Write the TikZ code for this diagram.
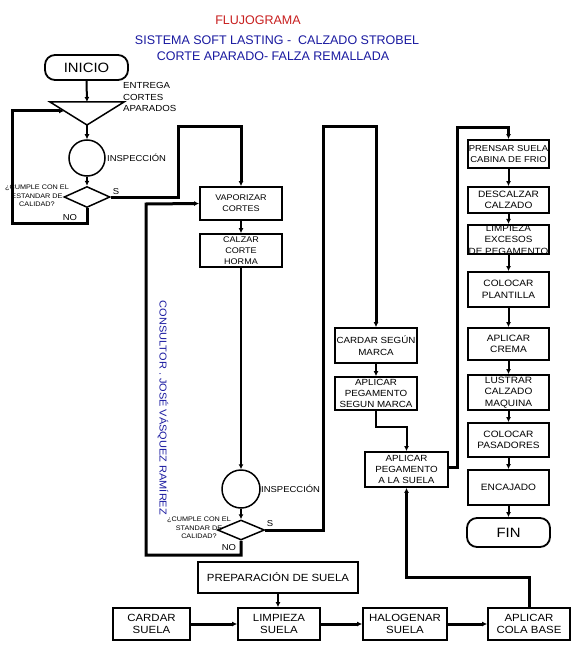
\documentclass[tikz,border=0pt]{standalone}
\usepackage{fontspec}
\setmainfont{Liberation Sans}
\newfontfamily\boxfont[FakeStretch=1.1]{Liberation Sans}
\usetikzlibrary{shapes.geometric,arrows.meta}
\definecolor{tblue}{RGB}{25,25,160}
\definecolor{tred}{RGB}{200,30,30}
\begin{document}
\begin{tikzpicture}[x=1pt,y=-1pt,
  box/.style={draw,line width=1.8pt,inner sep=0pt,align=center,font=\boxfont\fontsize{9.2}{11.5}\selectfont},
  mbox/.style={box,font=\boxfont\fontsize{8.9}{12}\selectfont},
  sbox/.style={box,font=\boxfont\fontsize{8.2}{11}\selectfont},
  bbox/.style={box,font=\boxfont\fontsize{10.4}{12}\selectfont},
  term/.style={draw,line width=1.8pt,rounded corners=10pt,inner sep=0pt,font=\boxfont\fontsize{13.5}{14}\selectfont},
  insp/.style={draw,circle,line width=1.5pt,minimum size=36pt,inner sep=0pt},
  dec/.style={draw,diamond,line width=1.5pt,inner sep=0pt,minimum width=46pt,minimum height=21pt},
  link/.style={line width=2pt},
  loopline/.style={line width=3pt},
  tip/.style={-{Latex[length=5pt,width=5pt]}},
  lbl/.style={inner sep=0pt,font=\boxfont\fontsize{8.6}{9}\selectfont},
  qlbl/.style={inner sep=0pt,align=center,font=\boxfont\fontsize{6.6}{8.3}\selectfont}]
\useasboundingbox (0,0) rectangle (577,671);
\fill[white] (0,0) rectangle (577,671);

% titles
\node[text=tred,font=\fontsize{12.5}{13}\selectfont] (t1) at (258,20) {FLUJOGRAMA};
\node[text=tblue,font=\fontsize{12.5}{13}\selectfont] (t2) at (277,40) {SISTEMA SOFT LASTING -\ \ CALZADO STROBEL};
\node[text=tblue,font=\fontsize{12.5}{13}\selectfont] (t3) at (273,56) {CORTE APARADO- FALZA REMALLADA};

% left column
\node[term,minimum width=83pt,minimum height=25pt] (inicio) at (86.5,67.5) {INICIO};
\coordinate (triTL) at (50,102);
\coordinate (triTR) at (124,102);
\coordinate (triA) at (87,125);
\coordinate (triT) at (87,102);
\coordinate (triL) at (64,111);
\draw[line width=1.5pt,line join=miter] (triTL) -- (triTR) -- (triA) -- cycle;
\node[lbl,anchor=west,align=left,font=\boxfont\fontsize{8.8}{11.5}\selectfont] (entrega) at (123,97) {ENTREGA\\CORTES\\APARADOS};
\node[insp] (c1) at (87,158) {};
\node[lbl,anchor=west] (i1) at (107,158) {INSPECCIÓN};
\node[dec] (d1) at (87,197) {};
\node[qlbl] (q1) at (37,196) {¿CUMPLE CON EL\\ESTANDAR DE\\CALIDAD?};
\node[lbl] (s1) at (116,192) {S};
\node[lbl] (n1) at (70,218) {NO};

\draw[link,tip] (inicio.south) -- (triT);
\draw[link,tip] (triA) -- (c1.north);
\draw[link,tip] (c1.south) -- (d1.north);
\coordinate (no1a) at (87,223);
\coordinate (no1b) at (12,223);
\coordinate (no1c) at (12,111);
\draw[loopline,tip] (d1.south) -- (no1a) -- (no1b) -- (no1c) -- (triL);
\coordinate (s1a) at (178,197);
\coordinate (s1b) at (178,127);
\coordinate (s1c) at (241,127);

% second column
\node[sbox,minimum width=82pt,minimum height=33pt] (vap) at (241,203.5) {VAPORIZAR\\CORTES};
\node[sbox,minimum width=82pt,minimum height=33pt] (calzar) at (241,250.5) {CALZAR\\CORTE\\HORMA};
\draw[loopline,tip] (d1.east) -- (s1a) -- (s1b) -- (s1c) -- (vap.north);
\node[insp,minimum size=38pt] (c2) at (241,489) {};
\node[lbl,anchor=west] (i2) at (261,489) {INSPECCIÓN};
\node[dec,minimum width=47pt,minimum height=20pt] (d2) at (241,530) {};
\node[qlbl] (q2) at (199,528) {¿CUMPLE CON EL\\STANDAR DE\\CALIDAD?};
\node[lbl] (s2) at (270,524) {S};
\node[lbl] (n2) at (229,548) {NO};
\node[text=tblue,rotate=-90,inner sep=0pt,font=\boxfont\fontsize{10}{10}\selectfont] (cons) at (163,408) {CONSULTOR . JOSÉ VÁSQUEZ RAMÍREZ};

\draw[link,tip] (vap.south) -- (calzar.north);
\draw[link,tip] (calzar.south) -- (c2.north);
\draw[link,tip] (c2.south) -- (d2.north);
\coordinate (no2a) at (241,555);
\coordinate (no2b) at (146,555);
\coordinate (no2c) at (146,204);
\draw[loopline,tip] (d2.south) -- (no2a) -- (no2b) -- (no2c) -- (vap.west);
\coordinate (s2a) at (323,530);
\coordinate (s2b) at (323,127);
\coordinate (s2c) at (376,127);

% third column
\node[mbox,minimum width=82pt,minimum height=35pt] (cardar) at (376,345.5) {CARDAR SEGÚN\\MARCA};
\node[mbox,font=\boxfont\fontsize{8.9}{11}\selectfont,minimum width=82pt,minimum height=33pt] (aplm) at (376,393.5) {APLICAR\\PEGAMENTO\\SEGUN MARCA};
\node[mbox,font=\boxfont\fontsize{8.9}{11}\selectfont,minimum width=83pt,minimum height=35pt] (pegs) at (406.5,469.5) {APLICAR\\PEGAMENTO\\A LA SUELA};
\draw[loopline,tip] (d2.east) -- (s2a) -- (s2b) -- (s2c) -- (cardar.north);
\draw[link,tip] (cardar.south) -- (aplm.north);
\coordinate (am1) at (376,427);
\draw[link,tip] (aplm.south) -- (am1) -| (pegs.north);
\coordinate (ps1) at (457,467);
\coordinate (ps2) at (457,128);
\coordinate (ps3) at (508.5,128);

% right column
\node[box,font=\boxfont\fontsize{8.6}{11}\selectfont,minimum width=81pt,minimum height=28pt] (prensar) at (508.5,154) {PRENSAR SUELA\\CABINA DE FRIO};
\node[box,minimum width=81pt,minimum height=26pt] (desc) at (508.5,200) {DESCALZAR\\CALZADO};
\node[box,font=\boxfont\fontsize{9}{11.5}\selectfont,minimum width=81pt,minimum height=29pt] (limp) at (508.5,239.5) {LIMPIEZA\\EXCESOS\\DE PEGAMENTO};
\node[box,minimum width=81pt,minimum height=35pt] (plant) at (508.5,289.5) {COLOCAR\\PLANTILLA};
\node[box,minimum width=81pt,minimum height=32pt] (crema) at (508.5,344) {APLICAR\\CREMA};
\node[box,minimum width=81pt,minimum height=35pt] (lust) at (508.5,392.5) {LUSTRAR\\CALZADO\\MAQUINA};
\node[box,minimum width=81pt,minimum height=34pt] (pasad) at (508.5,440) {COLOCAR\\PASADORES};
\node[box,minimum width=81pt,minimum height=35pt] (encaj) at (508.5,487.5) {ENCAJADO};
\node[term,minimum width=83pt,minimum height=29pt] (fin) at (508.5,532.5) {FIN};
\draw[loopline,tip] (pegs.east |- ps1) -- (ps1) -- (ps2) -- (ps3) -- (prensar.north);
\draw[link,tip] (prensar.south) -- (desc.north);
\draw[link,tip] (desc.south) -- (limp.north);
\draw[link,tip] (limp.south) -- (plant.north);
\draw[link,tip] (plant.south) -- (crema.north);
\draw[link,tip] (crema.south) -- (lust.north);
\draw[link,tip] (lust.south) -- (pasad.north);
\draw[link,tip] (pasad.south) -- (encaj.north);
\draw[link,tip] (encaj.south) -- (fin.north);

% bottom row
\node[bbox,minimum width=160pt,minimum height=31pt] (prep) at (278,577.5) {PREPARACIÓN DE SUELA};
\node[bbox,minimum width=77pt,minimum height=32pt] (cards) at (151.5,624) {CARDAR\\SUELA};
\node[bbox,minimum width=82pt,minimum height=32pt] (limps) at (279,624) {LIMPIEZA\\SUELA};
\node[bbox,minimum width=84pt,minimum height=32pt] (halog) at (405,624) {HALOGENAR\\SUELA};
\node[bbox,minimum width=82pt,minimum height=32pt] (cola) at (529,624) {APLICAR\\COLA BASE};
\draw[line width=1.2pt,tip] (prep.south) -- (limps.north -| prep.south);
\draw[loopline,tip] (cards.east) -- (limps.west);
\draw[loopline,tip] (limps.east) -- (halog.west);
\draw[loopline,tip] (halog.east) -- (cola.west);
\coordinate (cb1) at (529,577);
\draw[loopline,tip] (cola.north) -- (cb1) -| (pegs.south);
\end{tikzpicture}
\end{document}
